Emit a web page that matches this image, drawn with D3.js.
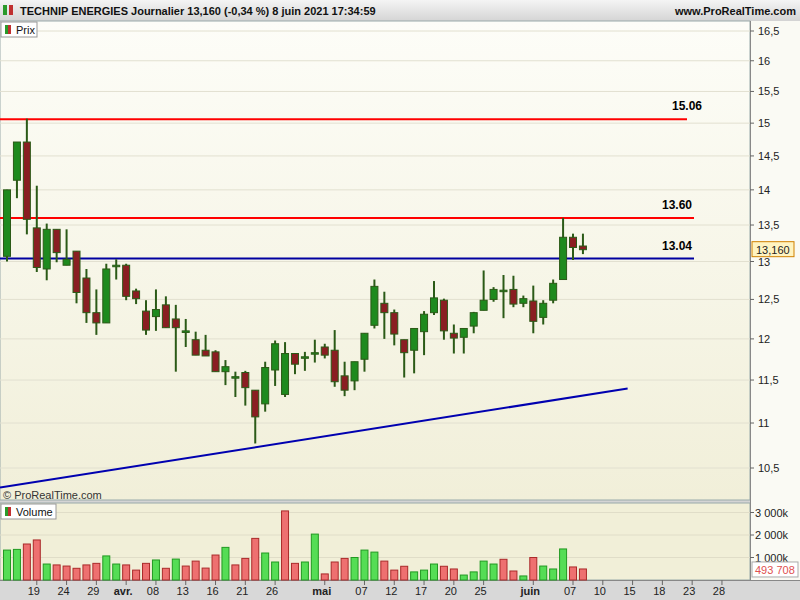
<!DOCTYPE html>
<html><head><meta charset="utf-8">
<script src="https://cdn.jsdelivr.net/npm/d3@7"></script>
<style>body{margin:0;background:#fff}svg{display:block;font-family:Arial,"Liberation Sans",sans-serif}</style>
</head><body><svg id="c" width="800" height="600"></svg>
<script>
const opens  = [13.07,14.14,14.71,13.46,12.90,13.44,12.95,13.14,12.78,12.33,12.20,12.93,12.95,12.61,12.35,12.28,12.43,12.25,12.08,11.99,11.86,11.84,11.60,11.53,11.59,11.38,11.22,11.62,11.33,11.82,11.77,11.82,11.90,11.86,11.55,11.49,11.75,12.17,12.45,12.33,11.99,11.86,12.09,12.33,12.49,12.07,12.02,12.16,12.36,12.50,12.62,12.63,12.45,12.48,12.27,12.49,12.76,13.33,13.21];
const highs  = [14.00,14.71,15.07,14.06,13.52,13.44,13.44,13.14,12.90,12.63,12.97,13.03,12.97,12.64,12.49,12.63,12.54,12.43,12.25,12.09,12.05,11.86,11.74,11.60,11.61,11.38,11.72,11.98,11.96,11.82,11.84,11.99,11.94,12.11,11.72,11.72,12.07,12.76,12.60,12.37,11.99,12.13,12.35,12.74,12.51,12.18,12.13,12.34,12.88,12.66,12.82,12.81,12.55,12.68,12.49,12.76,13.60,13.38,13.38];
const lows   = [13.00,13.88,13.37,12.86,12.75,12.99,12.95,12.45,12.20,12.05,12.20,12.76,12.49,12.44,12.05,12.10,12.14,11.60,11.90,11.80,11.79,11.60,11.44,11.30,11.20,10.77,11.13,11.43,11.30,11.57,11.61,11.71,11.76,11.42,11.31,11.38,11.60,12.13,12.00,11.92,11.53,11.58,11.80,12.30,11.99,11.82,11.82,12.07,12.36,12.47,12.26,12.40,12.40,12.07,12.18,12.45,12.76,13.02,13.10];
const closes = [14.00,14.71,13.58,12.92,13.44,13.12,13.03,12.59,12.33,12.20,12.90,12.95,12.54,12.51,12.11,12.37,12.14,12.14,12.10,11.80,11.79,11.60,11.66,11.54,11.41,11.07,11.65,11.94,11.82,11.69,11.78,11.83,11.80,11.48,11.38,11.72,12.07,12.67,12.33,12.06,11.83,12.13,12.31,12.52,12.10,12.01,12.13,12.33,12.49,12.63,12.62,12.44,12.51,12.22,12.45,12.71,13.33,13.19,13.16];
const volumes = [1.33,1.36,1.60,1.78,0.71,0.67,0.62,0.52,0.67,0.74,1.07,0.71,0.67,0.44,0.74,0.89,0.52,0.93,0.62,0.84,0.53,1.11,1.45,0.67,0.96,1.85,1.20,0.80,3.07,0.74,0.80,2.04,0.27,0.80,0.96,1.00,1.33,1.24,0.84,0.44,0.61,0.36,0.44,0.71,0.61,0.49,0.22,0.36,0.84,0.71,0.92,0.40,0.18,1.00,0.62,0.49,1.38,0.58,0.49]; // millions
const xTickIdx = [3,6,9,12,15,18,21,24,27,32,36,39,42,45,48,53,57,60,63,66,69,72];
const xTickLabels = ["19","24","29","avr.","08","13","16","21","26","mai","07","12","17","20","25","juin","07","10","15","18","23","28"];
const xTickBold = ["avr.","mai","juin"];
const yTicks = [10.5,11,11.5,12,12.5,13,13.5,14,14.5,15,15.5,16,16.5];
const volTicks = [1,2,3];
const hLines = [{v:15.06,c:"#ff0000",x2:687,lab:"15.06",lx:672},{v:13.60,c:"#ff0000",x2:694,lab:"13.60",lx:662},{v:13.04,c:"#0000a0",x2:694,lab:"13.04",lx:662}];
const trend = [{i:-0.7,v:10.29},{i:62.5,v:11.40}];

const svg = d3.select("#c");
const W=750, pTop=21, pBot=500, vTop=503, vBot=580;
const x = d3.scaleLinear().domain([0,1]).range([7,16.93]);
const y = d3.scaleLog().domain([10.5,16.5]).range([468,31]);
const yv = d3.scaleLinear().domain([0,3]).range([580,512.5]);

const defs = svg.append("defs");
const g1 = defs.append("linearGradient").attr("id","bg").attr("x1",0).attr("y1",0).attr("x2",0).attr("y2",1);
g1.append("stop").attr("offset","0").attr("stop-color","#fdfdf8");
g1.append("stop").attr("offset","1").attr("stop-color","#f1efd9");
const hg = defs.append("linearGradient").attr("id","hd").attr("x1",0).attr("y1",0).attr("x2",0).attr("y2",1);
hg.append("stop").attr("offset","0").attr("stop-color","#f4f4f4");
hg.append("stop").attr("offset","1").attr("stop-color","#d6d6d6");

svg.append("rect").attr("width",800).attr("height",600).attr("fill","#d4d4d4");
svg.append("rect").attr("width",800).attr("height",20).attr("fill","url(#hd)");
svg.append("text").attr("x",20).attr("y",15).attr("font-size",11).attr("font-weight","bold").attr("fill","#111").text("TECHNIP ENERGIES Journalier 13,160 (-0,34 %) 8 juin 2021 17:34:59");
svg.append("text").attr("x",796).attr("y",15).attr("text-anchor","end").attr("font-size",11).attr("font-weight","bold").attr("fill","#111").text("www.ProRealTime.com");
svg.append("rect").attr("x",3).attr("y",5).attr("width",4).attr("height",10).attr("fill","#2a9a2a");
svg.append("rect").attr("x",9).attr("y",5).attr("width",4).attr("height",10).attr("fill","#c03030");

svg.append("rect").attr("x",0).attr("y",pTop).attr("width",W).attr("height",pBot-pTop).attr("fill","url(#bg)").attr("stroke","#9aa").attr("stroke-width",1);
svg.append("rect").attr("x",W).attr("y",pTop).attr("width",50).attr("height",560).attr("fill","#fafaf4");
svg.append("rect").attr("x",0).attr("y",vTop).attr("width",W).attr("height",vBot-vTop).attr("fill","#f1efd8").attr("stroke","#9aa");
svg.append("rect").attr("x",0).attr("y",580).attr("width",800).attr("height",20).attr("fill","#d8d8d8");
svg.append("line").attr("x1",0).attr("x2",800).attr("y1",580.5).attr("y2",580.5).attr("stroke","#888");
svg.append("line").attr("x1",W+0.5).attr("x2",W+0.5).attr("y1",pTop).attr("y2",580).attr("stroke","#888");

yTicks.forEach(t=>{
  svg.append("line").attr("x1",0).attr("x2",W).attr("y1",y(t)).attr("y2",y(t)).attr("stroke","#e2e0d0");
  svg.append("line").attr("x1",W).attr("x2",W+4).attr("y1",y(t)).attr("y2",y(t)).attr("stroke","#666");
  svg.append("text").attr("x",758).attr("y",y(t)+4).attr("font-size",11).attr("fill","#222").text(String(t).replace(".",","));
});
volTicks.forEach(t=>{
  svg.append("line").attr("x1",0).attr("x2",W).attr("y1",yv(t)).attr("y2",yv(t)).attr("stroke","#e0ddc8");
  svg.append("line").attr("x1",W).attr("x2",W+4).attr("y1",yv(t)).attr("y2",yv(t)).attr("stroke","#666");
  svg.append("text").attr("x",755).attr("y",yv(t)+4).attr("font-size",11).attr("fill","#222").text(t+" 000k");
});
xTickIdx.forEach((d,k)=>{
  const xx=x(d);
  svg.append("line").attr("x1",xx).attr("x2",xx).attr("y1",580).attr("y2",585).attr("stroke","#666");
  const b = xTickBold.includes(xTickLabels[k]);
  svg.append("text").attr("x",xx-3).attr("y",595).attr("text-anchor","middle").attr("font-size",11)
    .attr("font-weight",b?"bold":"normal").attr("fill","#222").text(xTickLabels[k]);
});

svg.append("line").attr("x1",x(trend[0].i)).attr("y1",y(trend[0].v)).attr("x2",x(trend[1].i)).attr("y2",y(trend[1].v)).attr("stroke","#0000b0").attr("stroke-width",2);
hLines.forEach(h=>{
  svg.append("line").attr("x1",0).attr("x2",h.x2).attr("y1",y(h.v)).attr("y2",y(h.v)).attr("stroke",h.c).attr("stroke-width",2);
  svg.append("text").attr("x",h.lx).attr("y",y(h.v)-9).attr("font-size",12).attr("font-weight","bold").attr("fill","#000").text(h.lab);
});

const bw=7;
closes.forEach((c,i)=>{
  const o=opens[i], up=c>=o, xx=x(i);
  svg.append("line").attr("x1",xx).attr("x2",xx).attr("y1",y(highs[i])).attr("y2",y(lows[i])).attr("stroke","#2b5a17").attr("stroke-width",2);
  const y1=y(Math.max(o,c)), y2=y(Math.min(o,c));
  svg.append("rect").attr("x",xx-bw/2).attr("y",y1).attr("width",bw).attr("height",Math.max(1.5,y2-y1))
    .attr("fill",up?"#1e8a1e":"#8a1e22").attr("stroke","#2b5a17").attr("stroke-width",1);
});
volumes.forEach((v,i)=>{
  const up = i===0 ? true : closes[i]>=closes[i-1];
  svg.append("rect").attr("x",x(i)-3.5).attr("y",yv(v)).attr("width",7).attr("height",yv(0)-yv(v))
    .attr("fill",up?"#55dd55":"#ee7070").attr("stroke",up?"#229922":"#aa2a2a").attr("stroke-width",1);
});

function leg(yy,txt,w){
  svg.append("rect").attr("x",1).attr("y",yy).attr("width",w).attr("height",15).attr("fill","#fff").attr("stroke","#999");
  svg.append("rect").attr("x",5).attr("y",yy+3).attr("width",3).attr("height",9).attr("fill","#2a9a2a");
  svg.append("rect").attr("x",8).attr("y",yy+3).attr("width",3).attr("height",9).attr("fill","#c03030");
  svg.append("text").attr("x",16).attr("y",yy+12).attr("font-size",11).attr("fill","#111").text(txt);
}
leg(22,"Prix",36);
leg(504,"Volume",55);
svg.append("text").attr("x",3).attr("y",499).attr("font-size",11).attr("fill","#333").text("© ProRealTime.com");

svg.append("rect").attr("x",752).attr("y",y(closes[58])-8).attr("width",42).attr("height",15).attr("fill","#fff3c0").attr("stroke","#d08000");
svg.append("text").attr("x",756).attr("y",y(closes[58])+4).attr("font-size",11).attr("fill","#222").text("13,160");
svg.append("rect").attr("x",752).attr("y",yv(volumes[58])-7).attr("width",46).attr("height",15).attr("fill","#fff").attr("stroke","#aaa");
svg.append("text").attr("x",755).attr("y",yv(volumes[58])+5).attr("font-size",11).attr("fill","#e05050").text("493 708");
</script></body></html>
